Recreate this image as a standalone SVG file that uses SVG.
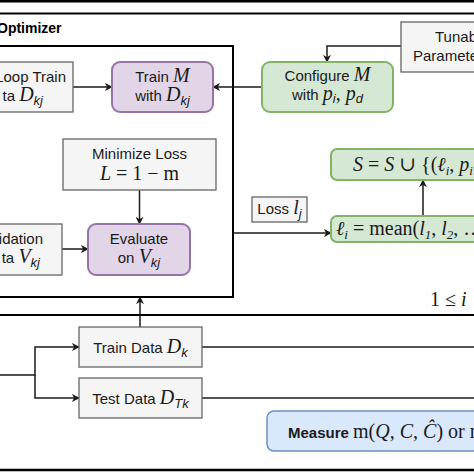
<svg xmlns="http://www.w3.org/2000/svg" width="474" height="474" viewBox="0 0 474 474">
<style>
.sans{font-family:"Liberation Sans",Arial,sans-serif;font-size:15px;fill:#1a1a1a}
.math{font-family:"Liberation Serif","DejaVu Serif",serif;font-size:20px;fill:#1a1a1a}
.mi{font-style:italic}
.sub{font-size:13px;font-style:italic}
.ln{stroke:#000;fill:none}
.conn{stroke:#1a1a1a;stroke-width:1.5;fill:none}
.gray{fill:#f5f5f5;stroke:#666666;stroke-width:1.3}
.purple{fill:#e1d5e7;stroke:#9673a6;stroke-width:2}
.green{fill:#d5e8d4;stroke:#82b366;stroke-width:2}
.blue{fill:#dae8fc;stroke:#6c8ebf;stroke-width:1.5}
</style>
<defs>
<marker id="arr" viewBox="0 0 10 10" refX="9" refY="5" markerWidth="8" markerHeight="8" orient="auto" markerUnits="userSpaceOnUse">
<path d="M0,0 L10,5 L0,10 L3,5 z" fill="#1a1a1a"/>
</marker>
</defs>
<rect width="474" height="474" fill="#ffffff"/>
<g id="frames">
<line class="ln" x1="0" y1="1" x2="474" y2="1" stroke-width="3"/>
<line class="ln" x1="0" y1="13.5" x2="474" y2="13.5" stroke-width="2"/>
<line class="ln" x1="0" y1="315" x2="474" y2="315" stroke-width="2"/>
<line class="ln" x1="0" y1="470" x2="474" y2="470" stroke-width="2.5"/>
<text x="-3" y="33" font-family="Liberation Sans,Arial,sans-serif" font-weight="bold" font-size="14px" fill="#000">Optimizer</text>
<rect id="inner" class="ln" x="-10" y="46" width="243" height="251" stroke-width="2"/>
<text class="math" x="430" y="306">1 ≤ <tspan class="mi">i</tspan></text>
</g>
<g id="connectors">
<line class="conn" x1="73" y1="87" x2="112" y2="87" marker-end="url(#arr)"/>
<line class="conn" x1="262" y1="87" x2="213" y2="87" marker-end="url(#arr)"/>
<polyline class="conn" points="401,46 327,46 327,62" marker-end="url(#arr)"/>
<line class="conn" x1="139.5" y1="190" x2="139.5" y2="224" marker-end="url(#arr)"/>
<line class="conn" x1="62" y1="249" x2="88" y2="249" marker-end="url(#arr)"/>
<line class="conn" x1="233" y1="233" x2="331" y2="233" marker-end="url(#arr)"/>
<line class="conn" x1="423" y1="216" x2="423" y2="180" marker-end="url(#arr)"/>
<line class="conn" x1="140" y1="327" x2="140" y2="297" marker-end="url(#arr)" stroke-width="2"/>
<polyline class="conn" points="0,375 35,375 35,347 79,347" marker-end="url(#arr)"/>
<polyline class="conn" points="35,375 35,398 79,398" marker-end="url(#arr)"/>
<line class="conn" x1="202" y1="347" x2="474" y2="347"/>
<line class="conn" x1="202" y1="398" x2="474" y2="398"/>
</g>
<g id="loopTrain">
<rect class="gray" x="-20" y="62" width="93" height="50"/>
<text class="sans" x="66" y="82" text-anchor="end">Loop Train</text>
<text class="sans" x="43" y="101" text-anchor="end">ta <tspan class="math mi">D</tspan><tspan class="sub" dy="4">kj</tspan></text>
</g>
<g id="trainM">
<rect class="purple" x="112" y="62" width="101" height="50" rx="8"/>
<text class="sans" x="162.5" y="82" text-anchor="middle">Train <tspan class="math mi">M</tspan></text>
<text class="sans" x="162.5" y="101" text-anchor="middle">with <tspan class="math mi">D</tspan><tspan class="sub" dy="4">kj</tspan></text>
</g>
<g id="configureM">
<rect class="green" x="262" y="62" width="131" height="50" rx="8"/>
<text class="sans" x="327.5" y="81" text-anchor="middle">Configure <tspan class="math mi">M</tspan></text>
<text class="sans" x="327.5" y="100" text-anchor="middle">with <tspan class="math mi" font-size="19px">p</tspan><tspan class="sub" dy="3">i</tspan><tspan class="math" font-size="19px" dy="-3">, </tspan><tspan class="math mi" font-size="19px">p</tspan><tspan class="sub" dy="3">d</tspan></text>
</g>
<g id="tunable">
<rect class="gray" x="401" y="22" width="90" height="50"/>
<text class="sans" x="435" y="42">Tunable</text>
<text class="sans" x="413" y="61">Parameters</text>
</g>
<g id="minimize">
<rect class="gray" x="63" y="139" width="153" height="51"/>
<text class="sans" x="139.5" y="159" text-anchor="middle">Minimize Loss</text>
<text class="math" x="139.5" y="180" text-anchor="middle"><tspan class="mi">L</tspan> = 1 − m</text>
</g>
<g id="validation">
<rect class="gray" x="-20" y="224" width="82" height="51"/>
<text class="sans" x="43" y="244" text-anchor="end">idation</text>
<text class="sans" x="40" y="263" text-anchor="end">ta <tspan class="math mi">V</tspan><tspan class="sub" dy="4">kj</tspan></text>
</g>
<g id="evaluate">
<rect class="purple" x="88" y="224" width="102" height="51" rx="8"/>
<text class="sans" x="139" y="244" text-anchor="middle">Evaluate</text>
<text class="sans" x="139" y="263" text-anchor="middle">on <tspan class="math mi">V</tspan><tspan class="sub" dy="4">kj</tspan></text>
</g>
<g id="lossLabel">
<rect class="gray" x="252" y="197" width="55" height="25"/>
<text class="sans" x="279.5" y="214" text-anchor="middle">Loss <tspan class="math mi">l</tspan><tspan class="sub" dy="4">j</tspan></text>
</g>
<g id="setS">
<rect class="green" x="331" y="149" width="160" height="31" rx="6"/>
<text class="math" x="353" y="171" font-size="21px"><tspan class="mi">S</tspan> = <tspan class="mi">S</tspan> ∪ {(<tspan class="mi">ℓ</tspan><tspan class="sub" dy="4">i</tspan><tspan dy="-4">, </tspan><tspan class="mi">p</tspan><tspan class="sub" dy="4">i</tspan><tspan dy="-4">, </tspan><tspan class="mi">p</tspan><tspan class="sub" dy="4">d</tspan><tspan dy="-4">)}</tspan></text>
</g>
<g id="meanL">
<rect class="green" x="331" y="216" width="160" height="26" rx="6"/>
<text class="math" x="336" y="235" font-size="21px"><tspan class="mi">ℓ</tspan><tspan class="sub" dy="4">i</tspan><tspan dy="-4"> = mean(</tspan><tspan class="mi">l</tspan><tspan class="sub" dy="4">1</tspan><tspan dy="-4">, </tspan><tspan class="mi">l</tspan><tspan class="sub" dy="4">2</tspan><tspan dy="-4">, …)</tspan></text>
</g>
<g id="trainData">
<rect class="gray" x="79" y="327" width="123" height="40"/>
<text class="sans" x="140.5" y="353" text-anchor="middle">Train Data <tspan class="math mi">D</tspan><tspan class="sub" dy="4">k</tspan></text>
</g>
<g id="testData">
<rect class="gray" x="79" y="378" width="123" height="40"/>
<text class="sans" x="140.5" y="404" text-anchor="middle">Test Data <tspan class="math mi">D</tspan><tspan class="sub" dy="4">Tk</tspan></text>
</g>
<g id="measure">
<rect class="blue" x="267" y="411" width="230" height="40" rx="7"/>
<text class="sans" x="288" y="438" font-weight="bold">Measure <tspan class="math" font-weight="normal">m(<tspan class="mi">Q</tspan>, <tspan class="mi">C</tspan>, <tspan class="mi">Ĉ</tspan>) or m</tspan></text>
</g>
</svg>
